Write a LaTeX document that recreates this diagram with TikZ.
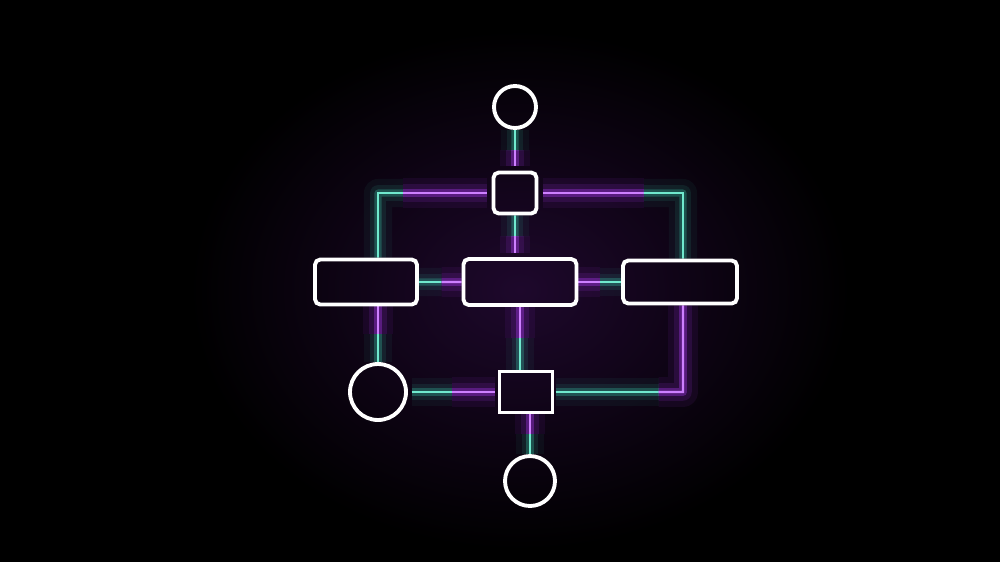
\documentclass[tikz,border=0pt]{standalone}
\usetikzlibrary{calc, positioning}
\definecolor{neonteal}{RGB}{64,226,190}
\definecolor{neonpurple}{RGB}{180,60,255}
\definecolor{hazepurple}{RGB}{30,8,44}
\pgfdeclarelayer{bg}
\pgfdeclarelayer{glow}
\pgfsetlayers{bg,glow,main}
\begin{document}
\begin{tikzpicture}[
	x=0.02cm,
	y=-0.02cm,
	box/.style={draw=white, line width=2.2pt, rounded corners=3pt, inner sep=0pt},
	ring/.style={circle, draw=white, line width=2.2pt, inner sep=0pt},
	teal line/.style={draw=neonteal!75!white, line width=1.1pt,
		preaction={draw=neonteal, line width=16pt, opacity=0.05, line join=round},
		preaction={draw=neonteal, line width=9pt, opacity=0.09, line join=round},
		preaction={draw=neonteal, line width=4pt, opacity=0.25, line join=round}},
	purple line/.style={draw=neonpurple!65!white, line width=1.2pt,
		preaction={draw=neonpurple, line width=17pt, opacity=0.07, line join=round},
		preaction={draw=neonpurple, line width=10pt, opacity=0.12, line join=round},
		preaction={draw=neonpurple, line width=4.5pt, opacity=0.32, line join=round}}
]

\useasboundingbox (0,0) rectangle (1000,562);
\clip (0,0) rectangle (1000,562);

 \node [ring, minimum size=0.84cm]                         (start)  at (515,107) {};
 \node [box, minimum width=0.86cm, minimum height=0.82cm]  (split)  at (515,193) {};
 \node [box, minimum width=2.04cm, minimum height=0.90cm]  (left)   at (366,282) {};
 \node [box, minimum width=2.26cm, minimum height=0.92cm]  (middle) at (520,282) {};
 \node [box, minimum width=2.28cm, minimum height=0.86cm]  (right)  at (680,282) {};
 \node [ring, minimum size=1.12cm]                         (join)   at (378,392) {};
 \node [box, rounded corners=0pt, minimum width=1.06cm,
        minimum height=0.82cm]                             (merge)  at (526,392) {};
 \node [ring, minimum size=1.0cm]                          (stop)   at (530,481) {};

 \coordinate (cnw) at (join.north |- split.west);
 \coordinate (cne) at (683,193);
 \coordinate (cse) at (cne |- merge.east);

\begin{pgfonlayer}{bg}
 \fill [black] (0,0) rectangle (1000,562);
 \shade [inner color=hazepurple, outer color=black] (520,290) ellipse [x radius=330, y radius=260];
\end{pgfonlayer}

\begin{pgfonlayer}{glow}
 % top branch
 \draw [teal line]   (start.south) -- ($(start.south)!0.5!(split.north)$);
 \draw [purple line] ($(start.south)!0.5!(split.north)$) -- ($(start.south)!0.89!(split.north)$);
 \draw [teal line]   (split.south) -- ($(split.south)!0.5!(split.south |- middle.north)$);
 \draw [purple line] ($(split.south)!0.5!(split.south |- middle.north)$) -- ($(split.south)!0.9!(split.south |- middle.north)$);
 \draw [teal line]   (cnw |- left.north) -- (cnw) -- ($(cnw)!0.22!(split.west)$);
 \draw [purple line] ($(cnw)!0.22!(split.west)$) -- ($(cnw)!0.96!(split.west)$);
 \draw [purple line] ($(split.east)!0.03!(cne)$) -- ($(split.east)!0.73!(cne)$);
 \draw [teal line]   ($(split.east)!0.73!(cne)$) -- (cne) -- (cne |- right.north);
 % middle row
 \draw [teal line]   (left.east) -- ($(left.east)!0.53!(middle.west)$);
 \draw [purple line] ($(left.east)!0.53!(middle.west)$) -- (middle.west);
 \draw [purple line] (middle.east) -- ($(middle.east)!0.5!(right.west)$);
 \draw [teal line]   ($(middle.east)!0.5!(right.west)$) -- (right.west);
 % lower branch
 \draw [purple line] (join.north |- left.south) -- ($(join.north |- left.south)!0.5!(join.north)$);
 \draw [teal line]   ($(join.north |- left.south)!0.5!(join.north)$) -- (join.north);
 \draw [purple line] (middle.south) -- ($(middle.south)!0.5!(middle.south |- merge.north)$);
 \draw [teal line]   ($(middle.south)!0.5!(middle.south |- merge.north)$) -- (middle.south |- merge.north);
 \draw [teal line]   ($(join.east)!0.04!(merge.west)$) -- ($(join.east)!0.49!(merge.west)$);
 \draw [purple line] ($(join.east)!0.49!(merge.west)$) -- ($(join.east)!0.97!(merge.west)$);
 \draw [teal line]   ($(merge.east)!0.01!(cse)$) -- ($(merge.east)!0.81!(cse)$);
 \draw [purple line] ($(merge.east)!0.81!(cse)$) -- (cse) -- (cse |- right.south);
 \draw [purple line] (stop.north |- merge.south) -- ($(stop.north |- merge.south)!0.5!(stop.north)$);
 \draw [teal line]   ($(stop.north |- merge.south)!0.5!(stop.north)$) -- (stop.north);
\end{pgfonlayer}

\end{tikzpicture}
\end{document}
